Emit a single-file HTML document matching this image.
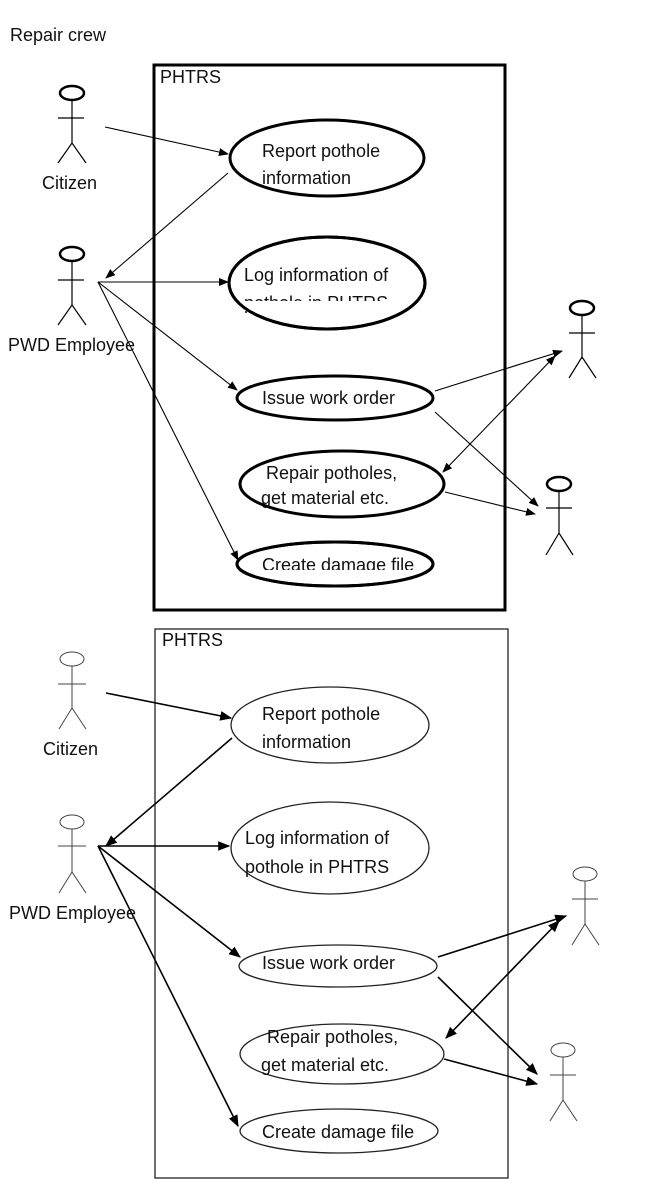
<!DOCTYPE html>
<html><head><meta charset="utf-8"><style>
html,body{margin:0;padding:0;background:#fff;width:670px;height:1198px;overflow:hidden}
svg{display:block}
text{font-family:"Liberation Sans",sans-serif;font-size:18px;fill:#111}
</style></head><body>
<svg width="670" height="1198" viewBox="0 0 670 1198" xmlns="http://www.w3.org/2000/svg">
<defs>
<marker id="a" viewBox="0 0 10 10" refX="9" refY="5" markerWidth="10" markerHeight="10" markerUnits="userSpaceOnUse" orient="auto-start-reverse"><path d="M0,1 L10,5 L0,9 z" fill="#000"/></marker>
<marker id="b" viewBox="0 0 10 10" refX="9" refY="5" markerWidth="12" markerHeight="12" markerUnits="userSpaceOnUse" orient="auto-start-reverse"><path d="M0,1 L10,5 L0,9 z" fill="#000"/></marker>
</defs>
<text x="10" y="41" font-size="15.5">Repair crew</text>

<!-- TOP DIAGRAM -->
<g fill="none" stroke="#000">
<rect x="154" y="65" width="351" height="545" stroke-width="3"/>
<g stroke-width="3" fill="#fff">
<ellipse cx="327" cy="158" rx="97" ry="38"/>
<ellipse cx="327" cy="283" rx="98" ry="46"/>
<ellipse cx="335" cy="398" rx="98" ry="22"/>
<ellipse cx="342" cy="484" rx="102" ry="33"/>
<ellipse cx="335" cy="564" rx="98" ry="22"/>
</g>
<g stroke-width="1.2">
<ellipse cx="72" cy="93" rx="12" ry="7" stroke-width="2.5"/>
<path d="M72,100V143M58,118H84M58,163L72,143L86,163"/>
<ellipse cx="72" cy="254" rx="12" ry="7" stroke-width="2.5"/>
<path d="M72,261V305M58,280H84M58,325L72,305L86,325"/>
<ellipse cx="582" cy="308" rx="12" ry="7" stroke-width="2.5"/>
<path d="M582,315V357M569,333H595M569,378L582,357L596,378"/>
<ellipse cx="559" cy="484" rx="12" ry="7" stroke-width="2.5"/>
<path d="M559,491V533M546,508H572M546,555L559,533L573,555"/>
</g>
<g stroke-width="1.1" marker-end="url(#a)">
<line x1="105" y1="127" x2="228" y2="154"/>
<line x1="228" y1="173" x2="106" y2="278"/>
<line x1="98" y1="282" x2="228" y2="282"/>
<line x1="98" y1="282" x2="237" y2="390"/>
<line x1="98" y1="282" x2="238" y2="560"/>
<line x1="435" y1="391" x2="562" y2="351"/>
<line x1="435" y1="412" x2="538" y2="506"/>
<line x1="445" y1="492" x2="535" y2="514"/>
<line x1="443" y1="472" x2="555" y2="356" marker-start="url(#a)"/>
</g>
</g>
<text x="160" y="83" font-size="14">PHTRS</text>
<text x="42" y="189">Citizen</text>
<text x="8" y="351">PWD Employee</text>
<text x="262" y="157">Report pothole</text>
<text x="262" y="184">information</text>
<text x="244" y="281">Log information of</text>
<text x="244" y="309">pothole in PHTRS</text>
<rect x="240" y="301" width="160" height="10" fill="#fff"/>
<text x="262" y="404">Issue work order</text>
<text x="266" y="479">Repair potholes,</text>
<text x="261" y="504">get material etc.</text>
<text x="262" y="571">Create damage file</text>
<rect x="255" y="570" width="170" height="6" fill="#fff"/>
<g fill="none" stroke="#000" stroke-width="3">
<ellipse cx="327" cy="283" rx="98" ry="46"/>
<ellipse cx="335" cy="564" rx="98" ry="22"/>
</g>

<!-- BOTTOM DIAGRAM -->
<g fill="none" stroke="#222">
<rect x="155" y="629" width="353" height="549" stroke-width="1.3"/>
<g stroke-width="1.3">
<ellipse cx="330" cy="725" rx="99" ry="38"/>
<ellipse cx="330" cy="848" rx="99" ry="46"/>
<ellipse cx="338" cy="966" rx="99" ry="21"/>
<ellipse cx="342" cy="1054" rx="102" ry="30"/>
<ellipse cx="339" cy="1131" rx="99" ry="22"/>
</g>
<g stroke-width="1" stroke="#444">
<ellipse cx="72" cy="659" rx="12" ry="7"/>
<path d="M72,666V708M58,684H86M59,729L72,708L86,729"/>
<ellipse cx="72" cy="822" rx="12" ry="7"/>
<path d="M72,829V872M58,846H86M59,893L72,872L86,893"/>
<ellipse cx="585" cy="874" rx="12" ry="7"/>
<path d="M585,881V924M572,899H598M572,945L585,924L599,945"/>
<ellipse cx="563" cy="1050" rx="12" ry="7"/>
<path d="M563,1057V1100M550,1075H576M550,1121L563,1100L577,1121"/>
</g>
<g stroke-width="1.6" stroke="#000" marker-end="url(#b)">
<line x1="106" y1="693" x2="231" y2="718"/>
<line x1="232" y1="738" x2="106" y2="846"/>
<line x1="98" y1="846" x2="229" y2="846"/>
<line x1="98" y1="846" x2="240" y2="957"/>
<line x1="98" y1="846" x2="238" y2="1126"/>
<line x1="438" y1="957" x2="566" y2="916"/>
<line x1="438" y1="977" x2="537" y2="1074"/>
<line x1="444" y1="1059" x2="537" y2="1084"/>
<line x1="446" y1="1038" x2="559" y2="921" marker-start="url(#b)"/>
</g>
</g>
<text x="162" y="646" font-size="14">PHTRS</text>
<text x="43" y="755">Citizen</text>
<text x="9" y="919">PWD Employee</text>
<text x="262" y="720">Report pothole</text>
<text x="262" y="748">information</text>
<text x="245" y="844">Log information of</text>
<text x="245" y="873">pothole in PHTRS</text>
<text x="262" y="969">Issue work order</text>
<text x="267" y="1043">Repair potholes,</text>
<text x="261" y="1071">get material etc.</text>
<text x="262" y="1138">Create damage file</text>
</svg>
</body></html>
